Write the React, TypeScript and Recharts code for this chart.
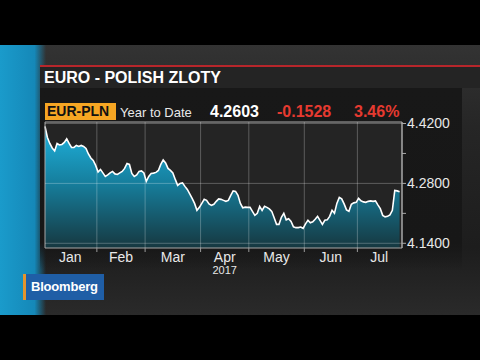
import React from 'react';
import {
  AreaChart,
  Area,
  XAxis,
  YAxis,
  CartesianGrid,
  ReferenceLine,
  ReferenceArea,
} from 'recharts';

// EUR-PLN daily fixings, first weekday of 2017 to late July
const values: number[] = [
  4.4131, 4.3873, 4.3733, 4.3628, 4.3558, 4.3733, 4.3698, 4.371, 4.3757, 4.3843,
  4.3733, 4.364, 4.364, 4.3687, 4.3663, 4.3687, 4.3663, 4.3617, 4.3488, 4.3395,
  4.3337, 4.322, 4.3068, 4.3127, 4.3045, 4.2963, 4.2998, 4.3045, 4.308, 4.3022,
  4.301, 4.3045, 4.308, 4.315, 4.3267, 4.3243, 4.3033, 4.2963, 4.2998, 4.308,
  4.3092, 4.3045, 4.2847, 4.2963, 4.3033, 4.304, 4.3057, 4.3103, 4.3243, 4.3348,
  4.3278, 4.315, 4.3103, 4.3045, 4.2893, 4.2753, 4.28, 4.2812, 4.273, 4.266,
  4.2555, 4.245, 4.2333, 4.217, 4.224, 4.2333, 4.2427, 4.2403, 4.2322, 4.2287,
  4.231, 4.238, 4.2438, 4.2427, 4.2403, 4.238, 4.2403, 4.252, 4.2625, 4.2613,
  4.252, 4.2333, 4.2228, 4.2245, 4.224, 4.224, 4.2147, 4.2053, 4.21, 4.2263,
  4.217, 4.2263, 4.224, 4.2205, 4.2147, 4.1995, 4.1843, 4.1843, 4.2007, 4.21,
  4.1948, 4.1972, 4.1913, 4.1785, 4.1766, 4.1766, 4.178, 4.175, 4.1855, 4.1937,
  4.1878, 4.1902, 4.196, 4.203, 4.1937, 4.1843, 4.1937, 4.1948, 4.203, 4.217,
  4.21, 4.2333, 4.2473, 4.2438, 4.2322, 4.2182, 4.2147, 4.231, 4.2345, 4.2357,
  4.245, 4.2392, 4.2368, 4.2357, 4.238, 4.2392, 4.238, 4.2392, 4.2298, 4.221,
  4.2053, 4.2018, 4.203, 4.2065, 4.217, 4.2637, 4.2625, 4.2603,
];

const monthLabels = ['Jan', 'Feb', 'Mar', 'Apr', 'May', 'Jun', 'Jul'];
const monthStarts = [0, 22, 42, 65, 85, 108, 130];
const yearLabel = '2017';
const yearUnder = 'Apr';

const yTicks = [4.14, 4.21, 4.28, 4.35, 4.42];
const yLabeled = [4.14, 4.28, 4.42];
const yDomain: [number, number] = [4.129, 4.4235];

const title = 'EURO - POLISH ZLOTY';
const ticker = 'EUR-PLN';
const period = 'Year to Date';

const data = values.map((v, i) => ({ i, v }));
const boundaries = monthStarts.slice(1).map((s) => s - 0.5);
const mids = monthStarts.map(
  (s, k) => (s + (monthStarts[k + 1] ?? values.length) - 1) / 2,
);

const first = values[0];
const last = values[values.length - 1];
const change = last - first;
const pct = Math.abs((change / first) * 100);

const FONT = '"Liberation Sans", Arial, sans-serif';
const RED = '#e63a30';
const LABEL = '#e8e8e8';
const GRID = 'rgba(255,255,255,0.26)';

function XTick({ x, y, payload }: any) {
  const k = mids.indexOf(payload.value);
  if (k < 0) {
    return <line x1={x} x2={x} y1={y} y2={y + 4} stroke="#9a9a9a" />;
  }
  return (
    <g>
      <text x={x} y={y + 14} textAnchor="middle" fill={LABEL} fontSize={14} fontFamily={FONT}>
        {monthLabels[k]}
      </text>
      {monthLabels[k] === yearUnder && (
        <text x={x} y={y + 26} textAnchor="middle" fill={LABEL} fontSize={11} fontFamily={FONT}>
          {yearLabel}
        </text>
      )}
    </g>
  );
}

function YTick({ x, y, payload }: any) {
  if (!yLabeled.includes(payload.value)) return <g />;
  return (
    <text x={x} y={y + 5} fill={LABEL} fontSize={14} fontFamily={FONT}>
      {payload.value.toFixed(4)}
    </text>
  );
}

const abs = (s: React.CSSProperties): React.CSSProperties => ({ position: 'absolute', ...s });

export default function App() {
  return (
    <div style={abs({ left: 0, top: 0, width: 480, height: 360, overflow: 'hidden', background: '#000', fontFamily: FONT })}>
      {/* studio backdrop */}
      <div style={abs({ left: 0, top: 45, width: 480, height: 270, background: 'linear-gradient(180deg, #333 0%, #262626 30%, #1d1d1d 75%, #2a2a2a 100%)' })} />
      <div style={abs({ left: 0, top: 45, width: 46, height: 270, background: 'linear-gradient(90deg, #1a9bcb 0%, #1588b8 75%, rgba(20,120,160,0) 100%)' })} />
      <div style={abs({ left: 40, top: 65, width: 440, height: 2, background: '#b8262b' })} />
      <div style={abs({ left: 40, top: 67, width: 440, height: 21, background: '#242424' })} />
      <div style={abs({ left: 40, top: 88, width: 422, height: 182, background: 'linear-gradient(180deg, #181818 0%, #171717 85%, rgba(23,23,23,0) 100%)' })} />

      <div style={abs({ left: 44, top: 68, lineHeight: '20px', fontSize: 16, fontWeight: 'bold', color: '#fff' })}>
        {title}
      </div>

      <div style={abs({ left: 45, top: 103, width: 71, height: 17, background: '#f6a623' })} />
      <div style={abs({ left: 47, top: 103, lineHeight: '17px', fontSize: 14, fontWeight: 'bold', color: '#111' })}>
        {ticker}
      </div>
      <div style={abs({ left: 120, top: 104, lineHeight: '17px', fontSize: 13, color: LABEL })}>{period}</div>
      <div style={abs({ left: 210, top: 103, lineHeight: '17px', fontSize: 16, fontWeight: 'bold', color: '#fff' })}>
        {last.toFixed(4)}
      </div>
      <div style={abs({ left: 277, top: 103, lineHeight: '17px', fontSize: 16, fontWeight: 'bold', color: RED })}>
        {(change < 0 ? '-' : '+') + Math.abs(change).toFixed(4)}
      </div>
      <div style={abs({ left: 354, top: 103, lineHeight: '17px', fontSize: 16, fontWeight: 'bold', color: RED })}>
        {pct.toFixed(2) + '%'}
      </div>

      <div style={abs({ left: 0, top: 0 })}>
        <AreaChart width={480} height={360} data={data} margin={{ top: 122, left: 45, right: 18, bottom: 82 }}>
          <defs>
            <linearGradient id="fxFill" x1="0" y1="0" x2="0" y2="1">
              <stop offset="0%" stopColor="#1fb3df" />
              <stop offset="45%" stopColor="#16809f" />
              <stop offset="100%" stopColor="#163840" />
            </linearGradient>
          </defs>
          <CartesianGrid horizontal={false} vertical={false} fill="#242424" stroke="none" />
          <XAxis
            type="number"
            dataKey="i"
            domain={[0, values.length]}
            ticks={[...boundaries, ...mids]}
            interval={0}
            tick={XTick}
            tickLine={false}
            axisLine={false}
            tickSize={0}
            tickMargin={0}
            height={30}
          />
          <YAxis
            orientation="right"
            domain={yDomain}
            ticks={yTicks}
            interval={0}
            tick={YTick}
            tickSize={4}
            tickMargin={1}
            tickLine={{ stroke: '#aaa' }}
            axisLine={{ stroke: '#a8a8a8' }}
            width={60}
          />
          <Area
            type="linear"
            dataKey="v"
            stroke="#ffffff"
            strokeWidth={1.6}
            fill="url(#fxFill)"
            fillOpacity={1}
            isAnimationActive={false}
          />
          {yLabeled.map((t) => (
            <ReferenceLine key={'h' + t} y={t} stroke={GRID} />
          ))}
          {boundaries.map((b) => (
            <ReferenceLine key={'v' + b} x={b} stroke={GRID} />
          ))}
          <ReferenceArea
            x1={0}
            x2={values.length}
            y1={yDomain[0]}
            y2={yDomain[1]}
            fill="none"
            stroke="#a8a8a8"
            strokeWidth={1}
            ifOverflow="visible"
          />
        </AreaChart>
      </div>

      <div style={abs({ left: 23, top: 274, width: 81, height: 26, background: '#1f5ea6', borderLeft: '3px solid #e6942d', boxSizing: 'border-box' })} />
      <div style={abs({ left: 31, top: 274, lineHeight: '26px', fontSize: 13, fontWeight: 'bold', color: '#fff', letterSpacing: -0.2 })}>
        Bloomberg
      </div>
    </div>
  );
}
